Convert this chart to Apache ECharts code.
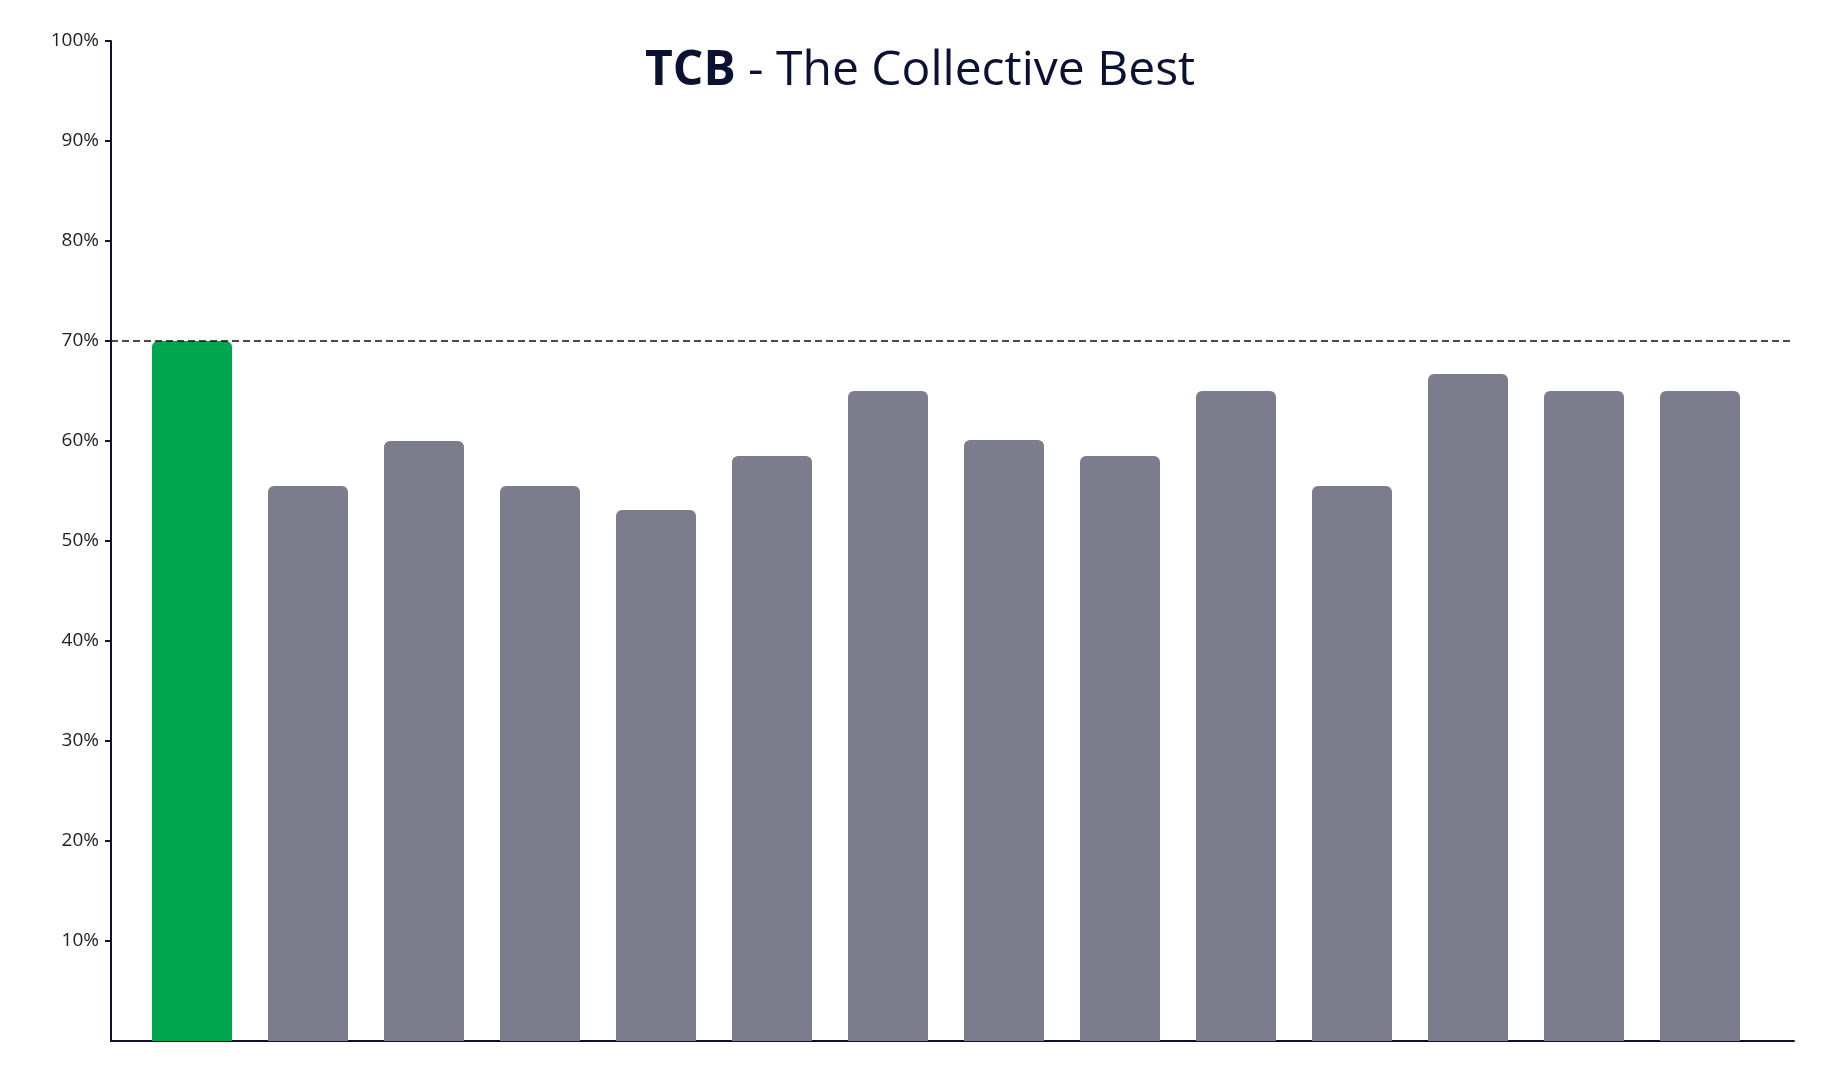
<!DOCTYPE html>
<html>
<head>
<meta charset="utf-8">
<title>TCB - The Collective Best</title>
<script src="https://cdn.jsdelivr.net/npm/echarts@6/dist/echarts.min.js"></script>
<style>
    html, body { margin: 0; padding: 0; background: #fff; }
    #chart { width: 1834px; height: 1080px; }
</style>
</head>
<body>
<div id="chart"></div>
<script>
// data
var categories = ["TCB", "B", "C", "D", "E", "F", "G", "H", "I", "J", "K", "L", "M", "N"];
var values = [70, 55.5, 60, 55.5, 53.1, 58.5, 65, 60.1, 58.5, 65, 55.5, 66.7, 65, 65];
var yTicks = [10, 20, 30, 40, 50, 60, 70, 80, 90, 100];
var yRange = [0, 100];
var target = 70;             // dashed reference line

(function () {
    var myChart = echarts.init(document.getElementById("chart"));
    var axisColor = "#0f1228";
    var option = {
        animation: false,
        textStyle: { fontFamily: "Open Sans" },
        title: {
            text: "{b|TCB} - The Collective Best",
            left: 640,
            top: 42,
            textStyle: {
                fontFamily: "Open Sans",
                fontSize: 48,
                fontWeight: "normal",
                color: "#0b1130",
                rich: {
                    b: { fontFamily: "Open Sans", fontSize: 48, fontWeight: "bold", color: "#0b1130" }
                }
            }
        },
        // grid 0 = frame with visible axes, grid 1 = bars
        grid: [
            { left: 111, right: 40, top: 41, bottom: 39 },
            { left: 134, right: 76, top: 41, bottom: 39 }
        ],
        xAxis: [
            {
                gridIndex: 0,
                type: "category",
                boundaryGap: false,
                data: ["", ""],
                axisLine: { lineStyle: { color: axisColor, width: 2 } },
                axisTick: { show: false },
                axisLabel: { show: false }
            },
            {
                gridIndex: 1,
                type: "category",
                data: categories,
                show: false
            }
        ],
        yAxis: [
            {
                gridIndex: 0,
                type: "value",
                min: yRange[0],
                max: yRange[1],
                interval: 10,
                axisLine: { show: true, lineStyle: { color: axisColor, width: 2 } },
                axisTick: {
                    show: true,
                    length: 6,
                    customValues: yTicks,
                    lineStyle: { color: axisColor, width: 2 }
                },
                splitLine: { show: false },
                axisLabel: {
                    color: "#222",
                    fontSize: 19,
                    margin: 12,
                    customValues: yTicks,
                    formatter: "{value}%"
                }
            },
            {
                gridIndex: 1,
                type: "value",
                min: yRange[0],
                max: yRange[1],
                show: false
            }
        ],
        series: [
            {
                // target line across the whole plot
                type: "line",
                xAxisIndex: 0,
                yAxisIndex: 0,
                data: [target, target],
                symbol: "none",
                silent: true,
                lineStyle: { color: "#111", width: 1.5, type: [7, 4] }
            },
            {
                type: "bar",
                xAxisIndex: 1,
                yAxisIndex: 1,
                barWidth: 80,
                data: values.map(function (v, i) {
                    return {
                        value: v,
                        itemStyle: { color: i === 0 ? "#00a64f" : "#7c7d8c" }
                    };
                }),
                itemStyle: { borderRadius: [6, 6, 0, 0] }
            }
        ]
    };
    myChart.setOption(option);
    window.addEventListener("resize", function () {
        myChart.resize();
    })
})();
</script>
</body>
</html>
